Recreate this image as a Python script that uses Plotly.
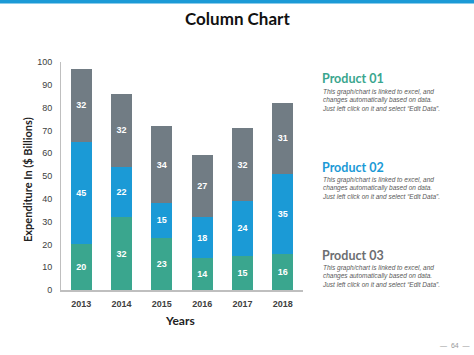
import plotly.graph_objects as go

years = ["2013", "2014", "2015", "2016", "2017", "2018"]
product_01 = [20, 32, 23, 14, 15, 16]
product_02 = [45, 22, 15, 18, 24, 35]
product_03 = [32, 32, 34, 27, 32, 31]
series_names = ["Product 01", "Product 02", "Product 03"]
colors = ["#3aa68e", "#1b9ad6", "#717c84"]
y_ticks = [0, 10, 20, 30, 40, 50, 60, 70, 80, 90, 100]
desc = "This graph/chart is linked to excel, and<br>changes automatically based on data.<br>Just left click on it and select \u201cEdit Data\u201d."

W, H = 474, 355
L, R, T, B = 61, 171, 62, 65
pw, ph = W - L - R, H - T - B

def px(x):
    return (x - L) / pw

def py(y):
    return (H - B - y) / ph

fig = go.Figure()
for name, vals, c in zip(series_names, [product_01, product_02, product_03], colors):
    fig.add_trace(go.Bar(
        x=years, y=vals, name=name, marker=dict(color=c, line=dict(width=0)),
        text=vals, textposition="inside", insidetextanchor="middle",
        textfont=dict(color="white", size=9, family="Liberation Sans"),
        texttemplate="<b>%{text}</b>", width=0.52,
    ))

fig.update_layout(
    barmode="stack", width=W, height=H,
    margin=dict(l=L, r=R, t=T, b=B),
    paper_bgcolor="white", plot_bgcolor="white",
    showlegend=False,
    font=dict(family="Liberation Sans", color="#333333"),
    xaxis=dict(showgrid=False, showline=True, linecolor="#bfbfbf", linewidth=1.5,
               tickfont=dict(size=9, family="Liberation Sans", color="#404040"),
               ticks="", ticklabelstandoff=4,
               tickprefix="<b>", ticksuffix="</b>"),
    yaxis=dict(range=[0, 100], tickvals=y_ticks, showgrid=False, zeroline=False,
               showline=True, linecolor="#bfbfbf", linewidth=1,
               tickfont=dict(size=9, family="Liberation Sans", color="#404040"),
               ticks="", tickprefix="<b>", ticksuffix="</b>", ticklabelstandoff=6),
)

ann = []
ann.append(dict(text="<b>Column Chart</b>", x=px(237), y=py(18), xref="paper", yref="paper",
                showarrow=False, font=dict(size=17, family="Lato", color="#111111"),
                xanchor="center", yanchor="middle"))
ann.append(dict(text="<b>Expenditure In ($ Billions)</b>", x=px(27), y=py(180), xref="paper", yref="paper",
                showarrow=False, textangle=-90, font=dict(size=11, family="Lato", color="#222222"),
                xanchor="center", yanchor="middle"))
ann.append(dict(text="<b>Years</b>", x=px(180), y=py(320), xref="paper", yref="paper",
                showarrow=False, font=dict(size=12, family="Lato", color="#222222"),
                xanchor="center", yanchor="middle"))
heads = [(78, 100), (167, 188), (255, 276)]
title_colors = ["#3aa68e", "#1b9ad6", "#6d6e71"]
for (hy, dy), name, c in zip(heads, series_names, title_colors):
    ann.append(dict(text="<b>" + name + "</b>", x=px(320), y=py(hy), xref="paper", yref="paper",
                    showarrow=False, font=dict(size=12.5, family="Lato", color=c),
                    xanchor="left", yanchor="middle"))
    ann.append(dict(text="<i>" + desc + "</i>", x=px(320), y=py(dy), xref="paper", yref="paper",
                    showarrow=False, font=dict(size=6.5, family="Liberation Sans", color="#595959"),
                    xanchor="left", yanchor="middle", align="left"))
ann.append(dict(text="\u2014  64  \u2014", x=px(455), y=py(345), xref="paper", yref="paper",
                showarrow=False, font=dict(size=7, family="Liberation Sans", color="#999999"),
                xanchor="center", yanchor="middle"))
fig.update_layout(annotations=ann)

fig.add_shape(type="rect", xref="paper", yref="paper", x0=px(0), x1=px(W), y0=py(3.5), y1=py(0),
              fillcolor="#1b9ad6", line=dict(width=0), layer="above")

fig.write_html("out.html", config={"displayModeBar": False},
               post_script="document.body.style.margin='0';document.body.style.overflow='hidden';")
